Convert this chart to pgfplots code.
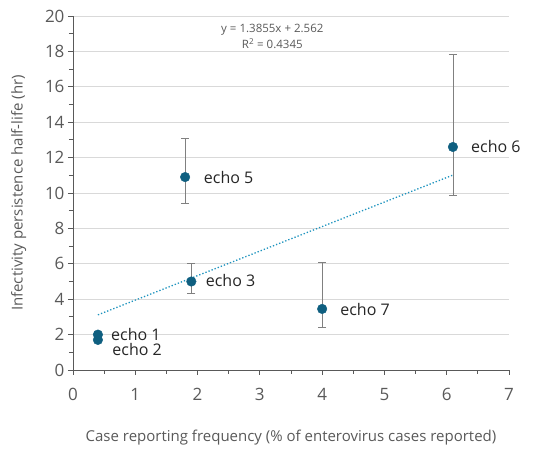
\documentclass[border=0pt]{standalone}
\usepackage{pgfplots}
\pgfplotsset{compat=1.18}
\usepackage{fontspec}
\setmainfont{Open Sans}
\definecolor{txt}{HTML}{595959}
\definecolor{axl}{HTML}{595959}
\definecolor{errc}{HTML}{808080}
\definecolor{grd}{HTML}{D9D9D9}
\definecolor{pt}{HTML}{0F5F80}
\definecolor{trend}{HTML}{1D93BE}
\begin{document}
\begin{tikzpicture}
\begin{axis}[
name=ax, at={(0,0)}, anchor=south west,
scale only axis, width=436pt, height=354pt,
xmin=0, xmax=7, ymin=0, ymax=20,
axis x line*=bottom, axis y line*=left,
axis line style={axl, line width=0.8pt},
xtick={0,...,7}, ytick={0,2,...,20},
minor xtick={0.5,1.5,...,6.5}, minor ytick={1,3,...,19},
tick align=outside, major tick length=5pt, minor tick length=4pt,
tick style={axl, line width=0.8pt},
ymajorgrids, major grid style={grd, line width=0.8pt},
ticklabel style={font=\fontsize{17}{20}\selectfont, txt},
/pgf/number format/assume math mode=true,
xticklabel style={yshift=-10pt},
xlabel={Case reporting frequency (\% of enterovirus cases reported)},
ylabel={Infectivity persistence half-life (hr)},
label style={font=\fontsize{15}{18}\selectfont, txt},
xlabel style={yshift=-22pt},
ylabel style={yshift=12pt},
clip=false,
]
% trendline
\addplot[trend, line width=1.3pt, dotted] coordinates {(0.4,3.116) (6.1,11.013)};
% data with error bars
\addplot[only marks, mark=*, mark size=4.8pt, mark options={pt, fill=pt},
  error bars/.cd, y dir=both, y explicit,
  error bar style={errc, line width=0.8pt},
  error mark options={rotate=90, mark size=4pt, errc, line width=0.8pt}]
  table[x=x, y=y, y error plus=ep, y error minus=em] {
x    y     ep    em
0.4  2.0   0     0
0.4  1.7   0     0
1.9  5.0   1.0   0.7
1.8  10.9  2.2   1.5
6.1  12.6  5.25  2.75
4.0  3.45  2.65  1.05
};
\tikzset{dl/.style={black!85, anchor=west, inner sep=0pt, font=\fontsize{16}{19}\selectfont}}
\node[dl] at (axis cs:0.61,2.03) {echo 1};
\node[dl] at (axis cs:0.63,1.13) {echo 2};
\node[dl] at (axis cs:2.13,5.08) {echo 3};
\node[dl] at (axis cs:2.10,10.9) {echo 5};
\node[dl] at (axis cs:6.39,12.6) {echo 6};
\node[dl] at (axis cs:4.29,3.39) {echo 7};
\node[txt, align=center, font=\fontsize{11.5}{16.5}\selectfont] at (axis cs:3.20,18.84) {y = 1.3855x + 2.562\\R\textsuperscript{2} = 0.4345};
\end{axis}
\pgfresetboundingbox
\path[use as bounding box] (-73pt,-82pt) rectangle (477pt,370pt);
\end{tikzpicture}
\end{document}
